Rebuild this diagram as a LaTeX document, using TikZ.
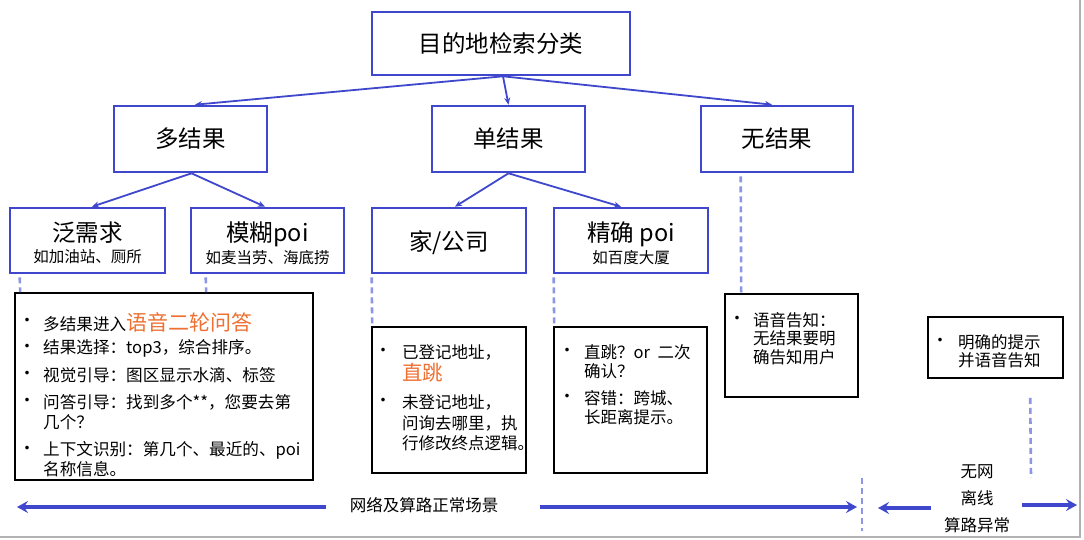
\documentclass[tikz,border=0pt]{standalone}
\usepackage{fontspec}
\setmainfont{Noto Sans CJK SC}
\usetikzlibrary{arrows.meta}
\definecolor{bblue}{RGB}{63,72,204}
\definecolor{dblue}{RGB}{140,150,228}
\definecolor{orng}{RGB}{238,112,50}
\begin{document}
\begin{tikzpicture}[x=1pt,y=-1pt,
  bbox/.style={draw=bblue,line width=2.6pt,inner sep=0pt,fill=white},
  kbox/.style={draw=black,line width=1.6pt,inner sep=0pt},
  arr/.style={draw=bblue,line width=1.8pt,-{Stealth[length=7pt,width=6pt]}},
  barr/.style={draw=bblue,line width=3.2pt,-{Stealth[length=11pt,width=12pt,inset=4pt]}},
  dsh/.style={draw=dblue,line width=2.6pt,dash pattern=on 6pt off 4pt},
  big/.style={inner sep=0pt,font=\fontsize{23.5}{26}\selectfont},
  sub/.style={inner sep=0pt,font=\fontsize{15.5}{18}\selectfont},
  tb/.style={inner sep=0pt,anchor=west,font=\fontsize{16.5}{19}\selectfont},
  ta/.style={inner sep=0pt,anchor=west,font=\fontsize{16.6}{20}\selectfont},
  bul/.style={inner sep=0pt,font=\fontsize{17}{19}\selectfont},
  lab/.style={inner sep=0pt,font=\fontsize{16.5}{19}\selectfont}
]
\useasboundingbox (0,0) rectangle (1084,540);
\fill[white] (0,0) rectangle (1084,540);
% frame
\coordinate (f1) at (1080,0);
\coordinate (f2) at (1080,537);
\coordinate (f3) at (0,537);
\draw[gray!60,line width=1.6pt] (f1) -- (f2) -- (f3);

% blue boxes
\node[bbox,minimum width=258pt,minimum height=63pt] (top) at (501,43.5) {};
\node[big] (toptx) at (501,44) {目的地检索分类};
\node[bbox,minimum width=153pt,minimum height=66pt] (mul) at (190.5,139) {};
\node[big] (multx) at (190.5,139) {多结果};
\node[bbox,minimum width=153pt,minimum height=66pt] (sgl) at (508.5,139) {};
\node[big] (sgltx) at (508.5,139) {单结果};
\node[bbox,minimum width=152pt,minimum height=66pt] (nor) at (777,139) {};
\node[big] (nortx) at (777,139) {无结果};

\node[bbox,minimum width=155pt,minimum height=65pt] (fan) at (87.5,240.5) {};
\node[big] (fantx) at (87.5,233) {泛需求};
\node[sub] (fansb) at (87.5,257) {如加油站、厕所};
\node[bbox,minimum width=153pt,minimum height=65pt] (mohu) at (267.5,240.5) {};
\node[big] (mohutx) at (267.5,234) {模糊poi};
\node[sub] (mohusb) at (267.5,258) {如麦当劳、海底捞};
\node[bbox,minimum width=154pt,minimum height=65pt] (home) at (449,240.5) {};
\node[big] (hometx) at (449,243) {家/公司};
\node[bbox,minimum width=154pt,minimum height=65pt] (jq) at (631,240.5) {};
\node[big] (jqtx) at (631,234) {精确 poi};
\node[sub] (jqsb) at (631,258) {如百度大厦};

% arrows
\draw[arr] ([xshift=2pt]top.south) -- ([xshift=4.5pt]mul.north);
\draw[arr] ([xshift=2pt]top.south) -- (sgl.north);
\draw[arr] ([xshift=2pt]top.south) -- ([xshift=-5pt]nor.north);
\draw[arr] ([xshift=1pt]mul.south) -- ([xshift=4.5pt]fan.north);
\draw[arr] ([xshift=1pt]mul.south) -- ([xshift=-2.5pt]mohu.north);
\draw[arr] (sgl.south) -- ([xshift=6pt]home.north);
\draw[arr] (sgl.south) -- ([xshift=-10pt]jq.north);

% black boxes
\node[kbox,minimum width=298pt,minimum height=187pt] (b1) at (164,386.5) {};
\node[kbox,minimum width=154pt,minimum height=146pt] (b2) at (449,400) {};
\node[kbox,minimum width=153pt,minimum height=146pt] (b3) at (630.5,400) {};
\node[kbox,minimum width=133pt,minimum height=103pt] (b4) at (791.5,345.5) {};
\node[kbox,minimum width=135pt,minimum height=61pt] (b5) at (995.5,347.5) {};

% dashed links
\draw[dsh] ([xshift=11pt,yshift=-3pt]fan.south west) -- ([xshift=6pt]b1.north west);
\draw[dsh] ([xshift=16pt,yshift=-3pt]mohu.south west) -- ([xshift=192pt]b1.north west);
\draw[dsh] ([xshift=1pt,yshift=-3pt]home.south west) -- ([xshift=1pt]b2.north west);
\draw[dsh] ([xshift=1pt,yshift=-3pt]jq.south west) -- ([xshift=1pt]b3.north west);
\draw[dsh] ([xshift=41pt,yshift=-3pt]nor.south west) -- ([xshift=17pt]b4.north west);
\coordinate (e5) at (1031,478);
\draw[dsh] ([xshift=103pt,yshift=-19pt]b5.south west) -- (e5);
\coordinate (v1) at (862,478);
\coordinate (v2) at (862,531);
\draw[dsh,line width=2pt] (v1) -- (v2);

% box 1 text
\node[bul] (p11) at (27,322) {•};
\node[ta] (l11) at (43,322) {多结果进入{\color{orng}\fontsize{21}{24}\selectfont 语音二轮问答}};
\node[bul] (p12) at (27,348) {•};
\node[ta] (l12) at (43,348) {结果选择：top3，综合排序。};
\node[bul] (p13) at (27,375) {•};
\node[ta] (l13) at (43,375) {视觉引导：图区显示水滴、标签};
\node[bul] (p14) at (27,402) {•};
\node[ta] (l14) at (43,402) {问答引导：找到多个**，您要去第};
\node[ta] (l14b) at (43,422) {几个？};
\node[bul] (p15) at (27,450) {•};
\node[ta] (l15) at (43,450) {上下文识别：第几个、最近的、poi};
\node[ta] (l15b) at (43,469) {名称信息。};

% box 2 text
\node[bul] (p21) at (383,352) {•};
\node[tb] (l21) at (402,352) {已登记地址，};
\node[tb,text=orng,font=\fontsize{20.5}{23}\selectfont] (l21b) at (402,373) {直跳};
\node[bul] (p22) at (383,402) {•};
\node[tb] (l22) at (402,402) {未登记地址，};
\node[tb] (l22b) at (402,423) {问询去哪里，执};
\node[tb] (l22c) at (402,443) {行修改终点逻辑。};

% box 3 text
\node[bul] (p31) at (567,352) {•};
\node[tb] (l31) at (584,352) {直跳？or\ \ 二次};
\node[tb] (l31b) at (584,371) {确认？};
\node[bul] (p32) at (567,398) {•};
\node[tb] (l32) at (584,398) {容错：跨城、};
\node[tb] (l32b) at (584,417) {长距离提示。};

% box 4 text
\node[bul] (p41) at (737,320) {•};
\node[tb] (l41) at (753,320) {语音告知：};
\node[tb] (l41b) at (753,338) {无结果要明};
\node[tb] (l41c) at (753,357) {确告知用户};

% box 5 text
\node[bul] (p51) at (940,342) {•};
\node[tb] (l51) at (958,342) {明确的提示};
\node[tb] (l51b) at (958,360) {并语音告知};

% bottom arrows
\node[lab] (net) at (424,505) {网络及算路正常场景};
\coordinate (la) at (17,507);
\coordinate (lb) at (326,507);
\coordinate (ra) at (540,507);
\coordinate (rb) at (857,507);
\draw[barr] (lb) -- (la);
\draw[barr] (ra) -- (rb);

\node[lab] (wn) at (977,472) {无网};
\node[lab] (lx) at (977,498) {离线};
\node[lab] (sl) at (977,525) {算路异常};
\coordinate (ea) at (931,508);
\coordinate (eb) at (878,508);
\coordinate (ec) at (1022,505);
\coordinate (ed) at (1077,505);
\draw[barr] (ea) -- (eb);
\draw[barr] (ec) -- (ed);
\end{tikzpicture}
\end{document}
